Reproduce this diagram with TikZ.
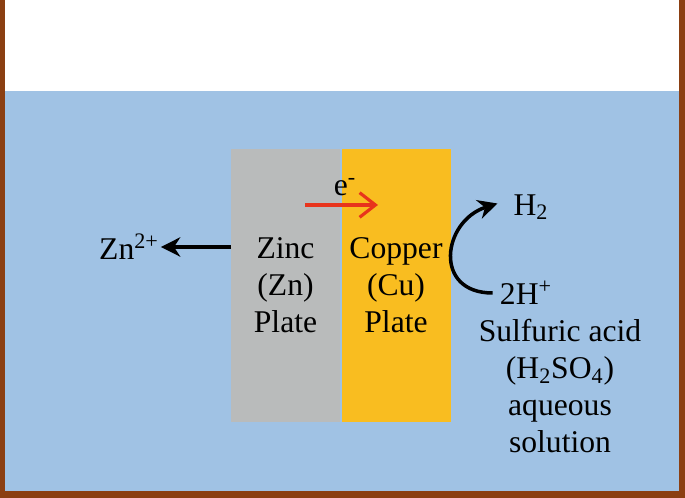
\documentclass[tikz,border=0pt]{standalone}
\usepackage{fontspec}
\setmainfont{Liberation Serif}
\usepackage{xcolor}
\usepackage{tikz}
\usetikzlibrary{arrows.meta,calc,positioning}

\definecolor{water}{HTML}{A0C2E4}
\definecolor{beaker}{HTML}{8B3F12}
\definecolor{zincgray}{HTML}{B9BBBB}
\definecolor{copperyellow}{HTML}{F9BD20}
\definecolor{electronred}{HTML}{E8341C}

\tikzset{
  plate/.style={inner sep=0pt, outer sep=0pt, minimum width=2.18cm, minimum height=5.46cm, align=center},
  ionarrow/.style={line width=2pt, -{Stealth[length=11pt,width=11pt]}},
  elecarrow/.style={electronred, line width=1.8pt, -{Straight Barb[length=9pt,width=14pt]}},
  label/.style={inner sep=1pt, align=center}
}

\begin{document}
\begin{tikzpicture}[font=\fontsize{18}{21}\selectfont]
  % Background and beaker
  \fill[white] (0,0) rectangle (13.7,9.96);
  \fill[water] (0.1,0.14) rectangle (13.58,8.14);
  \fill[beaker] (0,0) rectangle (0.1,9.96);
  \fill[beaker] (13.58,0) rectangle (13.7,9.96);
  \fill[beaker] (0,0) rectangle (13.7,0.14);

  % Plates
  \node[plate, fill=zincgray] (zinc) at (5.71,4.25) {Zinc\\(Zn)\\Plate};
  \node[plate, fill=copperyellow] (copper) at (7.92,4.25) {Copper\\(Cu)\\Plate};

  % Electron flow
  \node[label] (elec) at (6.9,6.22) {e\textsuperscript{-}};
  \coordinate (eStart) at (6.1,5.86);
  \coordinate (eEnd) at (7.56,5.86);
  \draw[elecarrow] (eStart) -- (eEnd);

  % Zinc ions
  \node[label] (znion) at (2.58,5.02) {Zn\textsuperscript{2+}};
  \draw[ionarrow] (zinc.west |- znion) -- (znion.east);

  % Hydrogen
  \node[label] (htwo) at (10.62,5.82) {H\textsubscript{2}};
  \node[label] (hplus) at (10.52,4.1) {2H\textsuperscript{+}};
  \draw[ionarrow] ([xshift=-3pt]hplus.west) .. controls +(-1.2,0) and +(-1.1,-0.35) .. ([xshift=-8pt,yshift=2pt]htwo.west);

  % Electrolyte
  \node[label] (acid) at (11.2,2.24) {Sulfuric acid\\(H\textsubscript{2}SO\textsubscript{4})\\aqueous\\solution};
\end{tikzpicture}
\end{document}
